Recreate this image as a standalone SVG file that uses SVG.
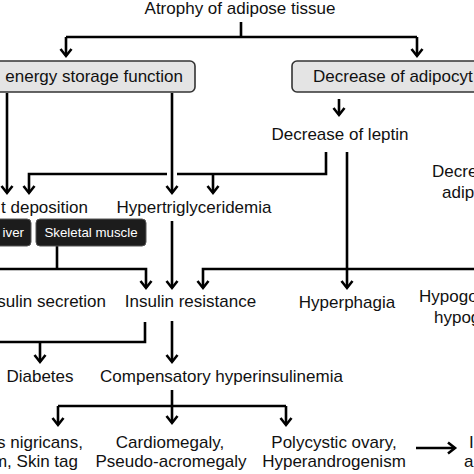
<svg xmlns="http://www.w3.org/2000/svg" width="474" height="474" viewBox="0 0 474 474">
<style>
text{font-family:"Liberation Sans",Arial,sans-serif;font-size:17px;fill:#111}
.m{text-anchor:middle}
.e{text-anchor:end}
.w{fill:#fff;font-size:13.3px}
.gbox{fill:#e4e4e4;stroke:#333;stroke-width:1.6}
.bbox{fill:#1c1c1c;stroke:#555;stroke-width:1}
.c path{fill:none;stroke:#000;stroke-width:2.6}
.a{marker-end:url(#ah)}
</style>
<defs>
<marker id="ah" markerUnits="userSpaceOnUse" orient="auto" markerWidth="20" markerHeight="20" refX="0" refY="0" viewBox="-10 -10 20 20" overflow="visible">
<path d="M-7,-5.5 L0,0 L-7,5.5" fill="none" stroke="#000" stroke-width="2.6"/>
</marker>
</defs>
<rect width="474" height="474" fill="#fff"/>
<g class="c" id="connectors">
<path d="M241,22 V37"/>
<path d="M66,37 H417"/>
<path class="a" d="M66,37 V56"/>
<path class="a" d="M417,37 V56"/>
<path class="a" d="M339,99 V115"/>
<path class="a" d="M7,93 V193"/>
<path class="a" d="M172,93 V193"/>
<path d="M326,152 V174 H177"/>
<path class="a" d="M167,174 H29 V193"/>
<path class="a" d="M213,174 V193"/>
<path class="a" d="M347,152 V288"/>
<path d="M57,246 V269"/>
<path class="a" d="M-5,269 H146 V288"/>
<path class="a" d="M172,221 V288"/>
<path class="a" d="M480,269 H203 V288"/>
<path d="M145,322 V342 H-5"/>
<path class="a" d="M40,342 V362"/>
<path class="a" d="M172,321 V362"/>
<path class="a" d="M172,390 V423"/>
<path d="M58,406 H286"/>
<path class="a" d="M58,406 V425"/>
<path class="a" d="M286,406 V425"/>
<path class="a" d="M416,448 H455"/>
</g>
<g id="n-title"><text class="m" x="240" y="14">Atrophy of adipose tissue</text></g>
<g id="n-energy"><rect class="gbox" x="-10" y="61" width="205" height="31" rx="5"/><text class="e" x="183" y="82">energy storage function</text></g>
<g id="n-adipocyte"><rect class="gbox" x="292" y="61" width="200" height="31" rx="5"/><text x="313" y="82">Decrease of adipocyt</text></g>
<g id="n-leptin"><text class="m" x="340" y="140">Decrease of leptin</text></g>
<g id="n-adiponectin"><text x="432" y="177">Decre</text><text x="442" y="198">adip</text></g>
<g id="n-fat"><text class="e" x="88" y="213">t deposition</text></g>
<g id="n-htg"><text class="m" x="194" y="213">Hypertriglyceridemia</text></g>
<g id="n-liver"><rect class="bbox" x="-10" y="219" width="41" height="27" rx="4"/><text class="w e" x="24" y="237">iver</text></g>
<g id="n-muscle"><rect class="bbox" x="36" y="219" width="110" height="27" rx="4"/><text class="w m" x="91" y="237">Skeletal muscle</text></g>
<g id="n-secretion"><text class="e" x="106" y="307">sulin secretion</text></g>
<g id="n-resistance"><text class="m" x="190.5" y="307">Insulin resistance</text></g>
<g id="n-hyperphagia"><text class="m" x="347" y="308">Hyperphagia</text></g>
<g id="n-hypogonad"><text x="419" y="302">Hypogo</text><text x="434" y="323">hypog</text></g>
<g id="n-diabetes"><text class="m" x="40" y="382">Diabetes</text></g>
<g id="n-hyperins"><text class="m" x="221.5" y="382">Compensatory hyperinsulinemia</text></g>
<g id="n-acanthosis"><text class="e" x="83" y="448">is nigricans,</text><text class="e" x="78" y="467">m, Skin tag</text></g>
<g id="n-cardio"><text class="m" x="170" y="448">Cardiomegaly,</text><text class="m" x="171" y="467">Pseudo-acromegaly</text></g>
<g id="n-pco"><text class="m" x="334" y="448">Polycystic ovary,</text><text class="m" x="334" y="467">Hyperandrogenism</text></g>
<g id="n-right"><text x="469" y="448">I</text><text x="464" y="467">a</text></g>
</svg>
